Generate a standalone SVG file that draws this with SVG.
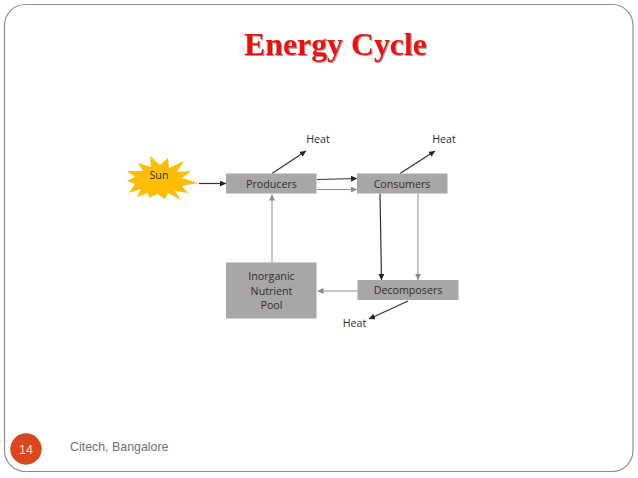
<svg xmlns="http://www.w3.org/2000/svg" width="638" height="478" viewBox="0 0 638 478">
<defs>
<marker id="ad" markerUnits="userSpaceOnUse" markerWidth="7" markerHeight="6" refX="6" refY="3" orient="auto"><path d="M0 0L6 3L0 6Z" fill="#222"/></marker>
<marker id="ag" markerUnits="userSpaceOnUse" markerWidth="7" markerHeight="6" refX="6" refY="3" orient="auto"><path d="M0 0L6 3L0 6Z" fill="#8c8c8c"/></marker>
<filter id="sh" x="-5%" y="-20%" width="110%" height="140%"><feDropShadow dx="1" dy="1" stdDeviation="0.7" flood-color="#888" flood-opacity="0.8"/></filter>
</defs>
<style>
.box{fill:#a8a6a6}
.t{font-family:"Open Sans","Noto Sans",sans-serif;font-size:10.7px;fill:#2e2e2e;text-anchor:middle}
.d{stroke:#333;stroke-width:1.2;fill:none;marker-end:url(#ad)}
.g{stroke:#959595;stroke-width:1.1;fill:none;marker-end:url(#ag)}
</style>
<rect width="638" height="478" fill="#fff"/>
<rect id="frame" x="4.500" y="4.500" width="628.500" height="467" rx="21" fill="none" stroke="#8e8e8e" stroke-width="1.2"/>
<text id="title" x="335.500" y="55" font-family="'Liberation Serif',serif" font-weight="700" font-size="31.800" fill="#f20c0c" text-anchor="middle" filter="url(#sh)">Energy Cycle</text>
<g id="connectors">
<path class="d" d="M199 183.500H226"/>
<path class="d" d="M272 173.500L306 151"/>
<path class="d" d="M317 179.500L357 178.500"/>
<path class="g" d="M317 189.500H357"/>
<path class="d" d="M400 173.500L435 151"/>
<path class="d" d="M380 193.500L381.500 280"/>
<path class="g" d="M418 193.500V280"/>
<path class="g" d="M272 262V194.500"/>
<path class="g" d="M357.500 291H317.500"/>
<path class="d" d="M408 301L369 319"/>
</g>
<g id="sun">
<path d="M127 171L143 171L138 163L151 167L150 156L160 165L168 158L169 168L184 161L177 172L191 171L182 178L198 183L182 186L188 193L175 191L181 200L168 193L165 199L157 194L149 198L148 193L137 197L141 189L129 193L135 184L127 181L135 177Z" fill="#fcbd05"/>
<text class="t" x="159" y="179">Sun</text>
</g>
<g id="producers"><rect class="box" x="226" y="173.500" width="90.500" height="20"/><text class="t" x="271.500" y="187.500">Producers</text></g>
<g id="consumers"><rect class="box" x="357" y="173.500" width="90.500" height="20"/><text class="t" x="402" y="187.500">Consumers</text></g>
<g id="decomposers"><rect class="box" x="357.500" y="280" width="101" height="20"/><text class="t" x="408" y="294">Decomposers</text></g>
<g id="pool"><rect class="box" x="226" y="262.500" width="90.500" height="56"/><text class="t" x="271.500" y="280">Inorganic</text><text class="t" x="271.500" y="294.500">Nutrient</text><text class="t" x="271.500" y="309">Pool</text></g>
<g id="heat1"><text class="t" x="318" y="143">Heat</text></g>
<g id="heat2"><text class="t" x="444" y="143">Heat</text></g>
<g id="heat3"><text class="t" x="354.500" y="327">Heat</text></g>
<g id="page">
<circle cx="26" cy="449" r="15.700" fill="#d8481a"/>
<text x="26" y="454" font-family="'Liberation Sans',sans-serif" font-size="12.500" fill="#f6e6df" text-anchor="middle">14</text>
</g>
<text id="footer" x="70" y="451" font-family="'Liberation Sans',sans-serif" font-size="12.400" fill="#6f7378">Citech, Bangalore</text>
</svg>
